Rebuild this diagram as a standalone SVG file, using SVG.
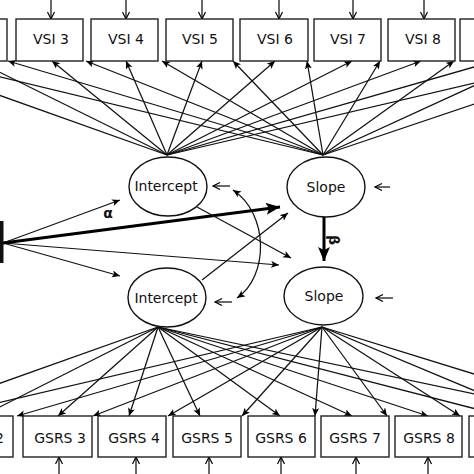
<svg xmlns="http://www.w3.org/2000/svg" width="474" height="474" viewBox="0 0 474 474">
<defs>
<marker id="ah" markerUnits="userSpaceOnUse" markerWidth="9" markerHeight="8" refX="8" refY="3.5" orient="auto-start-reverse" viewBox="0 0 9 8">
<path d="M0,0 L8,3.5 L0,7 L2,3.5 z" fill="#000"/>
</marker>
<marker id="open" markerUnits="userSpaceOnUse" markerWidth="10" markerHeight="10" refX="8" refY="4" orient="auto" viewBox="0 0 10 10">
<path d="M1,0.5 L8,4 L1,7.5" fill="none" stroke="#000" stroke-width="1.2"/>
</marker>
<marker id="big" markerUnits="userSpaceOnUse" markerWidth="15" markerHeight="13" refX="14" refY="6" orient="auto" viewBox="0 0 15 13">
<path d="M0,0 L14,6 L0,12 L3,6 z" fill="#000"/>
</marker>
</defs>
<style>
.box{fill:#fff;stroke:#222;stroke-width:1.4}
.lat{fill:#fff;stroke:#111;stroke-width:1.4}
.ln{stroke:#111;stroke-width:1.25;fill:none;marker-end:url(#ah)}
.err{stroke:#111;stroke-width:1.25;fill:none;marker-end:url(#open)}
.thick{stroke:#000;stroke-width:3;fill:none;marker-end:url(#big)}
text{font-family:"DejaVu Sans","Liberation Sans",sans-serif;font-size:14px;fill:#111;text-anchor:middle}
</style>
<rect width="474" height="474" fill="#fff"/>
<g id="connectors">
<line class="ln" x1="167" y1="155" x2="-97" y2="61"/>
<line class="ln" x1="167" y1="155" x2="-23" y2="61"/>
<line class="ln" x1="167" y1="155" x2="52" y2="61"/>
<line class="ln" x1="167" y1="155" x2="126" y2="61"/>
<line class="ln" x1="167" y1="155" x2="202" y2="61"/>
<line class="ln" x1="167" y1="155" x2="275" y2="61"/>
<line class="ln" x1="167" y1="155" x2="352" y2="61"/>
<line class="ln" x1="167" y1="155" x2="421" y2="61"/>
<line class="ln" x1="167" y1="155" x2="495" y2="61"/>
<line class="ln" x1="167" y1="155" x2="569" y2="61"/>
<line class="ln" x1="323" y1="155" x2="-66" y2="61"/>
<line class="ln" x1="323" y1="155" x2="8" y2="61"/>
<line class="ln" x1="323" y1="155" x2="86" y2="61"/>
<line class="ln" x1="323" y1="155" x2="162" y2="61"/>
<line class="ln" x1="323" y1="155" x2="233" y2="61"/>
<line class="ln" x1="323" y1="155" x2="307" y2="61"/>
<line class="ln" x1="323" y1="155" x2="380" y2="61"/>
<line class="ln" x1="323" y1="155" x2="454" y2="61"/>
<line class="ln" x1="323" y1="155" x2="528" y2="61"/>
<line class="ln" x1="323" y1="155" x2="602" y2="61"/>
<line class="ln" x1="158" y1="327" x2="-92" y2="416"/>
<line class="ln" x1="158" y1="327" x2="-18" y2="416"/>
<line class="ln" x1="158" y1="327" x2="58" y2="416"/>
<line class="ln" x1="158" y1="327" x2="129" y2="416"/>
<line class="ln" x1="158" y1="327" x2="200" y2="416"/>
<line class="ln" x1="158" y1="327" x2="280" y2="416"/>
<line class="ln" x1="158" y1="327" x2="352" y2="416"/>
<line class="ln" x1="158" y1="327" x2="428" y2="416"/>
<line class="ln" x1="158" y1="327" x2="503" y2="416"/>
<line class="ln" x1="158" y1="327" x2="578" y2="416"/>
<line class="ln" x1="322" y1="327" x2="-58" y2="416"/>
<line class="ln" x1="322" y1="327" x2="17" y2="416"/>
<line class="ln" x1="322" y1="327" x2="93" y2="416"/>
<line class="ln" x1="322" y1="327" x2="168" y2="416"/>
<line class="ln" x1="322" y1="327" x2="242" y2="416"/>
<line class="ln" x1="322" y1="327" x2="315" y2="416"/>
<line class="ln" x1="322" y1="327" x2="387" y2="416"/>
<line class="ln" x1="322" y1="327" x2="460" y2="416"/>
<line class="ln" x1="322" y1="327" x2="535" y2="416"/>
<line class="ln" x1="322" y1="327" x2="610" y2="416"/>
<line class="err" x1="51" y1="0" x2="51" y2="19"/>
<line class="err" x1="126" y1="0" x2="126" y2="19"/>
<line class="err" x1="202" y1="0" x2="202" y2="19"/>
<line class="err" x1="279" y1="0" x2="279" y2="19"/>
<line class="err" x1="353" y1="0" x2="353" y2="19"/>
<line class="err" x1="424" y1="0" x2="424" y2="19"/>
<line class="err" x1="59" y1="474" x2="59" y2="457"/>
<line class="err" x1="136" y1="474" x2="136" y2="457"/>
<line class="err" x1="209" y1="474" x2="209" y2="457"/>
<line class="err" x1="281" y1="474" x2="281" y2="457"/>
<line class="err" x1="356" y1="474" x2="356" y2="457"/>
<line class="err" x1="428" y1="474" x2="428" y2="457"/>
<line class="err" x1="230" y1="186" x2="213" y2="186"/>
<line class="err" x1="390" y1="187" x2="375" y2="187"/>
<line class="err" x1="232" y1="302" x2="215" y2="302"/>
<line class="err" x1="393" y1="298" x2="376" y2="298"/>
<line class="ln" x1="3" y1="243" x2="120" y2="200"/>
<line class="ln" x1="3" y1="243" x2="120" y2="276"/>
<line class="ln" x1="3" y1="243" x2="279" y2="265"/>
<line class="thick" x1="3" y1="243" x2="280" y2="207"/>
<line class="ln" x1="197" y1="207" x2="291" y2="258"/>
<line class="ln" x1="202" y1="280" x2="288" y2="213"/>
<path class="ln" d="M233,190 C269,214 269,276 237,298" marker-start="url(#ah)"/>
<line class="thick" x1="324" y1="217" x2="324" y2="261"/>
</g>
<g id="labels">
<text x="108" y="218" font-weight="bold" font-size="15">α</text>
<text x="334" y="240" font-weight="bold" font-size="15" transform="rotate(90 334 240)" dy="5">β</text>
</g>
<g id="predictor"><rect x="0" y="221" width="3.5" height="42" fill="#111"/></g>
<g id="vsi2"><rect class="box" x="-58" y="19" width="65" height="42"/></g>
<g id="vsi3"><rect class="box" x="16" y="19" width="67" height="42"/><text x="51" y="44">VSI 3</text></g>
<g id="vsi4"><rect class="box" x="91" y="19" width="67" height="42"/><text x="126" y="44">VSI 4</text></g>
<g id="vsi5"><rect class="box" x="166" y="19" width="67" height="42"/><text x="200" y="44">VSI 5</text></g>
<g id="vsi6"><rect class="box" x="240" y="19" width="68" height="42"/><text x="275" y="44">VSI 6</text></g>
<g id="vsi7"><rect class="box" x="314" y="19" width="67" height="42"/><text x="348" y="44">VSI 7</text></g>
<g id="vsi8"><rect class="box" x="388" y="19" width="67" height="42"/><text x="423" y="44">VSI 8</text></g>
<g id="vsi9"><rect class="box" x="460" y="19" width="67" height="42"/></g>
<g id="gsrs2"><rect class="box" x="-55" y="416" width="68" height="41"/><text x="-22" y="443">GSRS 2</text></g>
<g id="gsrs3"><rect class="box" x="23" y="416" width="69" height="41"/><text x="60" y="443">GSRS 3</text></g>
<g id="gsrs4"><rect class="box" x="98" y="416" width="68" height="41"/><text x="134" y="443">GSRS 4</text></g>
<g id="gsrs5"><rect class="box" x="173" y="416" width="68" height="41"/><text x="207" y="443">GSRS 5</text></g>
<g id="gsrs6"><rect class="box" x="248" y="416" width="67" height="41"/><text x="281" y="443">GSRS 6</text></g>
<g id="gsrs7"><rect class="box" x="321" y="416" width="68" height="41"/><text x="355" y="443">GSRS 7</text></g>
<g id="gsrs8"><rect class="box" x="395" y="416" width="67" height="41"/><text x="429" y="443">GSRS 8</text></g>
<g id="gsrs9"><rect class="box" x="469" y="416" width="68" height="41"/></g>
<g id="intercept1"><ellipse class="lat" cx="168" cy="186.5" rx="39" ry="29.5"/><text x="166" y="191">Intercept</text></g>
<g id="slope1"><ellipse class="lat" cx="326" cy="187" rx="39" ry="30"/><text x="326" y="192">Slope</text></g>
<g id="intercept2"><ellipse class="lat" cx="167" cy="297.5" rx="39" ry="29.5"/><text x="166" y="303">Intercept</text></g>
<g id="slope2"><ellipse class="lat" cx="323.5" cy="296" rx="39.5" ry="29"/><text x="324" y="301">Slope</text></g>
</svg>
